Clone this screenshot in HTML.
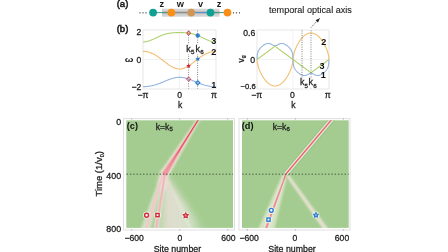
<!DOCTYPE html>
<html><head><meta charset="utf-8"><style>
html,body{margin:0;padding:0;background:#fff;width:448px;height:252px;overflow:hidden}
.t{fill:#1e1e1e;stroke:#1e1e1e;stroke-width:0.28px}
svg{display:block}
</style></head><body>
<svg width="448" height="252" viewBox="0 0 448 252" font-family='"Liberation Sans", Arial, sans-serif'>
<defs>
<filter id="bl1" x="-50%" y="-50%" width="200%" height="200%"><feGaussianBlur stdDeviation="1"/></filter>
<filter id="bl2" x="-50%" y="-50%" width="200%" height="200%"><feGaussianBlur stdDeviation="2"/></filter>
<filter id="bl3" x="-50%" y="-50%" width="200%" height="200%"><feGaussianBlur stdDeviation="3"/></filter>
<filter id="bl03" x="-50%" y="-50%" width="200%" height="200%"><feGaussianBlur stdDeviation="0.3"/></filter>
<filter id="bl08" x="-50%" y="-50%" width="200%" height="200%"><feGaussianBlur stdDeviation="0.8"/></filter>
<filter id="bl05" x="-50%" y="-50%" width="200%" height="200%"><feGaussianBlur stdDeviation="0.5"/></filter>
<clipPath id="cc"><rect x="126.3" y="120.3" width="106.7" height="107.6"/></clipPath>
<clipPath id="cd"><rect x="242" y="120.3" width="106.7" height="107.6"/></clipPath>
</defs>
<rect width="448" height="252" fill="#fff"/>
<text x="116.7" y="7.4" font-size="9.5" class="t" style="stroke-width:0.55px">(a)</text>
<rect x="162" y="8.7" width="57.5" height="8" fill="#d4d4d4"/>
<rect x="162" y="11" width="57.5" height="3.2" fill="#bdbdbd"/>
<line x1="153" y1="12.6" x2="171.5" y2="12.6" stroke="#3f9a7d" stroke-width="1"/>
<line x1="171.5" y1="12.6" x2="191" y2="12.6" stroke="#8a8a8a" stroke-width="1"/>
<line x1="191" y1="12.6" x2="210.5" y2="12.6" stroke="#4b90d4" stroke-width="1"/>
<line x1="210.5" y1="12.6" x2="227.5" y2="12.6" stroke="#3f9a7d" stroke-width="1"/>
<circle cx="153.1" cy="12.6" r="3.9" fill="#0fa294"/>
<circle cx="171.4" cy="12.6" r="3.9" fill="#fb8f16"/>
<circle cx="191.2" cy="12.6" r="3.9" fill="#d09656"/>
<circle cx="210.5" cy="12.6" r="3.9" fill="#0fa294"/>
<circle cx="227.5" cy="12.6" r="3.9" fill="#fb8f16"/>
<circle cx="140" cy="12.8" r="0.65" fill="#222"/>
<circle cx="143" cy="12.8" r="0.65" fill="#222"/>
<circle cx="146" cy="12.8" r="0.65" fill="#222"/>
<circle cx="233.5" cy="12.8" r="0.65" fill="#222"/>
<circle cx="236.5" cy="12.8" r="0.65" fill="#222"/>
<circle cx="239.5" cy="12.8" r="0.65" fill="#222"/>
<text x="161.7" y="6.8" font-size="9.2" font-weight="bold" fill="#1a1a1a" text-anchor="middle">z</text>
<text x="180.4" y="6.8" font-size="9.2" font-weight="bold" fill="#1a1a1a" text-anchor="middle">w</text>
<text x="200.6" y="6.8" font-size="9.2" font-weight="bold" fill="#1a1a1a" text-anchor="middle">v</text>
<text x="219" y="6.8" font-size="9.2" font-weight="bold" fill="#1a1a1a" text-anchor="middle">z</text>
<text x="269" y="12.9" font-size="9.1" class="t" style="stroke-width:0.12px">temporal optical axis</text>
<line x1="311" y1="27.6" x2="317.5" y2="20.6" stroke="#444" stroke-width="0.8" stroke-dasharray="1.2,1"/>
<polygon points="320,18 315.6,20.2 318,22.5" fill="#222"/>
<text x="116.7" y="31.9" font-size="9.5" class="t" style="stroke-width:0.55px">(b)</text>
<rect x="143" y="30" width="73" height="59" fill="#fff" stroke="#e2e2e2" stroke-width="0.8"/>
<line x1="143" y1="59.5" x2="216" y2="59.5" stroke="#ededed" stroke-width="0.7"/>
<line x1="179.5" y1="30" x2="179.5" y2="89" stroke="#ededed" stroke-width="0.7"/>
<line x1="188.6" y1="30.5" x2="188.6" y2="88.5" stroke="#3a3a3a" stroke-width="0.7" stroke-dasharray="0.9,1.4"/>
<line x1="197.6" y1="30.5" x2="197.6" y2="88.5" stroke="#3a3a3a" stroke-width="0.7" stroke-dasharray="0.9,1.4"/>
<path d="M143.00,41.96 L143.30,41.95 L143.61,41.94 L143.91,41.93 L144.22,41.91 L144.52,41.89 L144.82,41.86 L145.13,41.82 L145.43,41.78 L145.74,41.73 L146.04,41.68 L146.35,41.63 L146.65,41.56 L146.95,41.50 L147.26,41.43 L147.56,41.35 L147.87,41.27 L148.17,41.18 L148.47,41.09 L148.78,41.00 L149.08,40.90 L149.39,40.80 L149.69,40.69 L150.00,40.59 L150.30,40.47 L150.60,40.36 L150.91,40.24 L151.21,40.11 L151.52,39.99 L151.82,39.86 L152.12,39.73 L152.43,39.60 L152.73,39.46 L153.04,39.33 L153.34,39.19 L153.65,39.05 L153.95,38.91 L154.25,38.77 L154.56,38.62 L154.86,38.48 L155.17,38.34 L155.47,38.19 L155.78,38.04 L156.08,37.90 L156.38,37.75 L156.69,37.61 L156.99,37.46 L157.30,37.32 L157.60,37.18 L157.90,37.03 L158.21,36.89 L158.51,36.75 L158.82,36.61 L159.12,36.48 L159.43,36.34 L159.73,36.21 L160.03,36.07 L160.34,35.94 L160.64,35.81 L160.95,35.69 L161.25,35.56 L161.55,35.44 L161.86,35.32 L162.16,35.21 L162.47,35.09 L162.77,34.98 L163.07,34.87 L163.38,34.77 L163.68,34.66 L163.99,34.56 L164.29,34.46 L164.60,34.37 L164.90,34.28 L165.20,34.19 L165.51,34.10 L165.81,34.02 L166.12,33.94 L166.42,33.86 L166.72,33.78 L167.03,33.71 L167.33,33.64 L167.64,33.58 L167.94,33.51 L168.25,33.45 L168.55,33.39 L168.85,33.34 L169.16,33.28 L169.46,33.23 L169.77,33.19 L170.07,33.14 L170.38,33.10 L170.68,33.06 L170.98,33.02 L171.29,32.98 L171.59,32.94 L171.90,32.91 L172.20,32.88 L172.50,32.85 L172.81,32.82 L173.11,32.80 L173.42,32.78 L173.72,32.75 L174.03,32.73 L174.33,32.71 L174.63,32.70 L174.94,32.68 L175.24,32.67 L175.55,32.65 L175.85,32.64 L176.15,32.63 L176.46,32.62 L176.76,32.61 L177.07,32.60 L177.37,32.59 L177.68,32.59 L177.98,32.58 L178.28,32.58 L178.59,32.58 L178.89,32.57 L179.20,32.57 L179.50,32.57 L179.80,32.57 L180.11,32.57 L180.41,32.58 L180.72,32.58 L181.02,32.58 L181.32,32.59 L181.63,32.59 L181.93,32.60 L182.24,32.61 L182.54,32.62 L182.85,32.63 L183.15,32.64 L183.45,32.65 L183.76,32.67 L184.06,32.68 L184.37,32.70 L184.67,32.71 L184.97,32.73 L185.28,32.75 L185.58,32.78 L185.89,32.80 L186.19,32.82 L186.50,32.85 L186.80,32.88 L187.10,32.91 L187.41,32.94 L187.71,32.98 L188.02,33.02 L188.32,33.06 L188.62,33.10 L188.93,33.14 L189.23,33.19 L189.54,33.23 L189.84,33.28 L190.15,33.34 L190.45,33.39 L190.75,33.45 L191.06,33.51 L191.36,33.58 L191.67,33.64 L191.97,33.71 L192.28,33.78 L192.58,33.86 L192.88,33.94 L193.19,34.02 L193.49,34.10 L193.80,34.19 L194.10,34.28 L194.40,34.37 L194.71,34.46 L195.01,34.56 L195.32,34.66 L195.62,34.77 L195.93,34.87 L196.23,34.98 L196.53,35.09 L196.84,35.21 L197.14,35.32 L197.45,35.44 L197.75,35.56 L198.05,35.69 L198.36,35.81 L198.66,35.94 L198.97,36.07 L199.27,36.21 L199.57,36.34 L199.88,36.48 L200.18,36.61 L200.49,36.75 L200.79,36.89 L201.10,37.03 L201.40,37.18 L201.70,37.32 L202.01,37.46 L202.31,37.61 L202.62,37.75 L202.92,37.90 L203.22,38.04 L203.53,38.19 L203.83,38.33 L204.14,38.48 L204.44,38.62 L204.75,38.77 L205.05,38.91 L205.35,39.05 L205.66,39.19 L205.96,39.33 L206.27,39.46 L206.57,39.60 L206.88,39.73 L207.18,39.86 L207.48,39.99 L207.79,40.11 L208.09,40.24 L208.40,40.36 L208.70,40.47 L209.00,40.59 L209.31,40.69 L209.61,40.80 L209.92,40.90 L210.22,41.00 L210.53,41.09 L210.83,41.18 L211.13,41.27 L211.44,41.35 L211.74,41.43 L212.05,41.50 L212.35,41.56 L212.65,41.63 L212.96,41.68 L213.26,41.73 L213.57,41.78 L213.87,41.82 L214.18,41.86 L214.48,41.89 L214.78,41.91 L215.09,41.93 L215.39,41.94 L215.70,41.95 L216.00,41.96" fill="none" stroke="#afd16e" stroke-width="1.1"/>
<path d="M143.00,51.34 L143.30,51.34 L143.61,51.35 L143.91,51.36 L144.22,51.38 L144.52,51.40 L144.82,51.42 L145.13,51.45 L145.43,51.49 L145.74,51.52 L146.04,51.57 L146.35,51.62 L146.65,51.67 L146.95,51.73 L147.26,51.79 L147.56,51.85 L147.87,51.92 L148.17,52.00 L148.47,52.08 L148.78,52.16 L149.08,52.25 L149.39,52.35 L149.69,52.44 L150.00,52.55 L150.30,52.65 L150.60,52.76 L150.91,52.88 L151.21,53.00 L151.52,53.12 L151.82,53.25 L152.12,53.39 L152.43,53.52 L152.73,53.66 L153.04,53.81 L153.34,53.96 L153.65,54.11 L153.95,54.27 L154.25,54.43 L154.56,54.60 L154.86,54.77 L155.17,54.94 L155.47,55.12 L155.78,55.30 L156.08,55.49 L156.38,55.68 L156.69,55.87 L156.99,56.06 L157.30,56.26 L157.60,56.46 L157.90,56.67 L158.21,56.88 L158.51,57.09 L158.82,57.30 L159.12,57.52 L159.43,57.74 L159.73,57.96 L160.03,58.18 L160.34,58.41 L160.64,58.63 L160.95,58.86 L161.25,59.09 L161.55,59.32 L161.86,59.56 L162.16,59.79 L162.47,60.03 L162.77,60.26 L163.07,60.50 L163.38,60.74 L163.68,60.98 L163.99,61.21 L164.29,61.45 L164.60,61.69 L164.90,61.93 L165.20,62.16 L165.51,62.40 L165.81,62.63 L166.12,62.87 L166.42,63.10 L166.72,63.33 L167.03,63.56 L167.33,63.78 L167.64,64.01 L167.94,64.23 L168.25,64.45 L168.55,64.66 L168.85,64.88 L169.16,65.09 L169.46,65.29 L169.77,65.49 L170.07,65.69 L170.38,65.89 L170.68,66.08 L170.98,66.26 L171.29,66.44 L171.59,66.62 L171.90,66.79 L172.20,66.96 L172.50,67.12 L172.81,67.27 L173.11,67.42 L173.42,67.56 L173.72,67.70 L174.03,67.83 L174.33,67.96 L174.63,68.08 L174.94,68.19 L175.24,68.29 L175.55,68.39 L175.85,68.48 L176.15,68.57 L176.46,68.65 L176.76,68.72 L177.07,68.78 L177.37,68.84 L177.68,68.88 L177.98,68.93 L178.28,68.96 L178.59,68.99 L178.89,69.00 L179.20,69.02 L179.50,69.02 L179.80,69.02 L180.11,69.00 L180.41,68.99 L180.72,68.96 L181.02,68.93 L181.32,68.88 L181.63,68.84 L181.93,68.78 L182.24,68.72 L182.54,68.65 L182.85,68.57 L183.15,68.48 L183.45,68.39 L183.76,68.29 L184.06,68.19 L184.37,68.08 L184.67,67.96 L184.97,67.83 L185.28,67.70 L185.58,67.56 L185.89,67.42 L186.19,67.27 L186.50,67.12 L186.80,66.96 L187.10,66.79 L187.41,66.62 L187.71,66.44 L188.02,66.26 L188.32,66.08 L188.62,65.89 L188.93,65.69 L189.23,65.49 L189.54,65.29 L189.84,65.09 L190.15,64.88 L190.45,64.66 L190.75,64.45 L191.06,64.23 L191.36,64.01 L191.67,63.78 L191.97,63.56 L192.28,63.33 L192.58,63.10 L192.88,62.87 L193.19,62.63 L193.49,62.40 L193.80,62.16 L194.10,61.93 L194.40,61.69 L194.71,61.45 L195.01,61.21 L195.32,60.98 L195.62,60.74 L195.93,60.50 L196.23,60.26 L196.53,60.03 L196.84,59.79 L197.14,59.56 L197.45,59.32 L197.75,59.09 L198.05,58.86 L198.36,58.63 L198.66,58.41 L198.97,58.18 L199.27,57.96 L199.57,57.74 L199.88,57.52 L200.18,57.30 L200.49,57.09 L200.79,56.88 L201.10,56.67 L201.40,56.46 L201.70,56.26 L202.01,56.06 L202.31,55.87 L202.62,55.68 L202.92,55.49 L203.22,55.30 L203.53,55.12 L203.83,54.94 L204.14,54.77 L204.44,54.60 L204.75,54.43 L205.05,54.27 L205.35,54.11 L205.66,53.96 L205.96,53.81 L206.27,53.66 L206.57,53.52 L206.88,53.39 L207.18,53.25 L207.48,53.12 L207.79,53.00 L208.09,52.88 L208.40,52.76 L208.70,52.65 L209.00,52.55 L209.31,52.44 L209.61,52.35 L209.92,52.25 L210.22,52.16 L210.53,52.08 L210.83,52.00 L211.13,51.92 L211.44,51.85 L211.74,51.79 L212.05,51.73 L212.35,51.67 L212.65,51.62 L212.96,51.57 L213.26,51.52 L213.57,51.49 L213.87,51.45 L214.18,51.42 L214.48,51.40 L214.78,51.38 L215.09,51.36 L215.39,51.35 L215.70,51.34 L216.00,51.34" fill="none" stroke="#f3be70" stroke-width="1.1"/>
<path d="M143.00,86.70 L143.30,86.70 L143.61,86.70 L143.91,86.69 L144.22,86.68 L144.52,86.67 L144.82,86.66 L145.13,86.65 L145.43,86.63 L145.74,86.61 L146.04,86.59 L146.35,86.57 L146.65,86.54 L146.95,86.51 L147.26,86.48 L147.56,86.45 L147.87,86.42 L148.17,86.38 L148.47,86.34 L148.78,86.30 L149.08,86.26 L149.39,86.21 L149.69,86.16 L150.00,86.11 L150.30,86.06 L150.60,86.01 L150.91,85.95 L151.21,85.89 L151.52,85.83 L151.82,85.77 L152.12,85.70 L152.43,85.63 L152.73,85.56 L153.04,85.49 L153.34,85.41 L153.65,85.34 L153.95,85.26 L154.25,85.17 L154.56,85.09 L154.86,85.00 L155.17,84.92 L155.47,84.82 L155.78,84.73 L156.08,84.64 L156.38,84.54 L156.69,84.44 L156.99,84.34 L157.30,84.24 L157.60,84.13 L157.90,84.03 L158.21,83.92 L158.51,83.81 L158.82,83.70 L159.12,83.59 L159.43,83.47 L159.73,83.36 L160.03,83.24 L160.34,83.12 L160.64,83.00 L160.95,82.88 L161.25,82.76 L161.55,82.63 L161.86,82.51 L162.16,82.38 L162.47,82.26 L162.77,82.13 L163.07,82.00 L163.38,81.88 L163.68,81.75 L163.99,81.62 L164.29,81.49 L164.60,81.36 L164.90,81.23 L165.20,81.11 L165.51,80.98 L165.81,80.85 L166.12,80.72 L166.42,80.60 L166.72,80.47 L167.03,80.35 L167.33,80.22 L167.64,80.10 L167.94,79.98 L168.25,79.86 L168.55,79.74 L168.85,79.62 L169.16,79.51 L169.46,79.39 L169.77,79.28 L170.07,79.17 L170.38,79.06 L170.68,78.96 L170.98,78.86 L171.29,78.76 L171.59,78.66 L171.90,78.56 L172.20,78.47 L172.50,78.38 L172.81,78.29 L173.11,78.21 L173.42,78.13 L173.72,78.05 L174.03,77.98 L174.33,77.91 L174.63,77.85 L174.94,77.78 L175.24,77.72 L175.55,77.67 L175.85,77.62 L176.15,77.57 L176.46,77.53 L176.76,77.49 L177.07,77.45 L177.37,77.42 L177.68,77.39 L177.98,77.37 L178.28,77.35 L178.59,77.34 L178.89,77.32 L179.20,77.32 L179.50,77.32 L179.80,77.32 L180.11,77.32 L180.41,77.34 L180.72,77.35 L181.02,77.37 L181.32,77.39 L181.63,77.42 L181.93,77.45 L182.24,77.49 L182.54,77.53 L182.85,77.57 L183.15,77.62 L183.45,77.67 L183.76,77.72 L184.06,77.78 L184.37,77.85 L184.67,77.91 L184.97,77.98 L185.28,78.05 L185.58,78.13 L185.89,78.21 L186.19,78.29 L186.50,78.38 L186.80,78.47 L187.10,78.56 L187.41,78.66 L187.71,78.76 L188.02,78.86 L188.32,78.96 L188.62,79.06 L188.93,79.17 L189.23,79.28 L189.54,79.39 L189.84,79.51 L190.15,79.62 L190.45,79.74 L190.75,79.86 L191.06,79.98 L191.36,80.10 L191.67,80.22 L191.97,80.35 L192.28,80.47 L192.58,80.60 L192.88,80.72 L193.19,80.85 L193.49,80.98 L193.80,81.11 L194.10,81.23 L194.40,81.36 L194.71,81.49 L195.01,81.62 L195.32,81.75 L195.62,81.88 L195.93,82.00 L196.23,82.13 L196.53,82.26 L196.84,82.38 L197.14,82.51 L197.45,82.63 L197.75,82.76 L198.05,82.88 L198.36,83.00 L198.66,83.12 L198.97,83.24 L199.27,83.36 L199.57,83.47 L199.88,83.59 L200.18,83.70 L200.49,83.81 L200.79,83.92 L201.10,84.03 L201.40,84.13 L201.70,84.24 L202.01,84.34 L202.31,84.44 L202.62,84.54 L202.92,84.64 L203.22,84.73 L203.53,84.82 L203.83,84.91 L204.14,85.00 L204.44,85.09 L204.75,85.17 L205.05,85.26 L205.35,85.34 L205.66,85.41 L205.96,85.49 L206.27,85.56 L206.57,85.63 L206.88,85.70 L207.18,85.77 L207.48,85.83 L207.79,85.89 L208.09,85.95 L208.40,86.01 L208.70,86.06 L209.00,86.11 L209.31,86.16 L209.61,86.21 L209.92,86.26 L210.22,86.30 L210.53,86.34 L210.83,86.38 L211.13,86.42 L211.44,86.45 L211.74,86.48 L212.05,86.51 L212.35,86.54 L212.65,86.57 L212.96,86.59 L213.26,86.61 L213.57,86.63 L213.87,86.65 L214.18,86.66 L214.48,86.67 L214.78,86.68 L215.09,86.69 L215.39,86.70 L215.70,86.70 L216.00,86.70" fill="none" stroke="#94b5e2" stroke-width="1.1"/>
<circle cx="188.62" cy="33.10" r="1.6" fill="none" stroke="#cf2a3a" stroke-width="1.0"/>
<polygon points="188.62,63.39 189.36,64.88 191.00,65.11 189.81,66.27 190.09,67.91 188.62,67.14 187.16,67.91 187.44,66.27 186.25,65.11 187.89,64.88" fill="#cf2a3a"/>
<polygon points="188.62,76.96 190.72,79.06 188.62,81.16 186.53,79.06" fill="none" stroke="#cf2a3a" stroke-width="1.0"/>
<circle cx="197.75" cy="35.56" r="2.0" fill="#2f7fcf" stroke="#2f7fcf" stroke-width="0.4"/>
<polygon points="197.75,56.59 198.48,58.08 200.13,58.32 198.94,59.48 199.22,61.11 197.75,60.34 196.28,61.11 196.56,59.48 195.37,58.32 197.02,58.08" fill="#2f7fcf"/>
<polygon points="197.75,80.66 199.85,82.76 197.75,84.86 195.65,82.76" fill="none" stroke="#2f7fcf" stroke-width="1.1"/>
<rect x="185.8" y="44.3" width="17.6" height="9.6" fill="#fff"/>
<text x="186.3" y="51.6" font-size="8.9" class="t">k<tspan font-size="6.2" dx="0.3" dy="2.1">5</tspan></text>
<text x="195.6" y="51.6" font-size="8.9" class="t">k<tspan font-size="6.2" dx="0.3" dy="2.1">6</tspan></text>
<text x="211.3" y="43.6" font-size="9.1" font-weight="bold" fill="#111">3</text>
<text x="211.3" y="54.5" font-size="9.1" font-weight="bold" fill="#111">2</text>
<text x="211.3" y="87.8" font-size="9.1" font-weight="bold" fill="#111">1</text>
<text x="141.4" y="35.2" font-size="8.6" class="t" text-anchor="end">2</text>
<text x="141.4" y="62.6" font-size="8.6" class="t" text-anchor="end">0</text>
<text x="141.4" y="89.6" font-size="8.6" class="t" text-anchor="end">−2</text>
<text transform="translate(129.1,61.5) scale(1.2,0.8)" font-size="8.6" font-weight="bold" fill="#222" text-anchor="middle">ω</text>
<text x="143" y="98" font-size="8.6" class="t" text-anchor="middle">−π</text>
<text x="179.6" y="98" font-size="8.6" class="t" text-anchor="middle">0</text>
<text x="214" y="98" font-size="8.6" class="t" text-anchor="middle">π</text>
<text x="180.2" y="107.8" font-size="8.6" class="t" text-anchor="middle">k</text>
<rect x="257" y="30" width="72" height="59" fill="#fff" stroke="#e2e2e2" stroke-width="0.8"/>
<line x1="257" y1="59.5" x2="329" y2="59.5" stroke="#ededed" stroke-width="0.7"/>
<line x1="293" y1="30" x2="293" y2="89" stroke="#ededed" stroke-width="0.7"/>
<path d="M257.00,59.50 L257.30,62.48 L257.60,64.02 L257.90,65.26 L258.20,66.34 L258.50,67.32 L258.80,68.21 L259.10,69.05 L259.40,69.83 L259.70,70.58 L260.00,71.29 L260.30,71.96 L260.60,72.61 L260.90,73.23 L261.20,73.83 L261.50,74.40 L261.80,74.96 L262.10,75.49 L262.40,76.01 L262.70,76.51 L263.00,77.00 L263.30,77.46 L263.60,77.92 L263.90,78.36 L264.20,78.78 L264.50,79.19 L264.80,79.59 L265.10,79.97 L265.40,80.34 L265.70,80.70 L266.00,81.04 L266.30,81.37 L266.60,81.69 L266.90,82.00 L267.20,82.30 L267.50,82.58 L267.80,82.85 L268.10,83.11 L268.40,83.36 L268.70,83.60 L269.00,83.83 L269.30,84.04 L269.60,84.25 L269.90,84.44 L270.20,84.62 L270.50,84.79 L270.80,84.95 L271.10,85.10 L271.40,85.23 L271.70,85.36 L272.00,85.47 L272.30,85.58 L272.60,85.67 L272.90,85.75 L273.20,85.82 L273.50,85.88 L273.80,85.93 L274.10,85.97 L274.40,86.00 L274.70,86.01 L275.00,86.02 L275.30,86.01 L275.60,86.00 L275.90,85.97 L276.20,85.93 L276.50,85.88 L276.80,85.82 L277.10,85.75 L277.40,85.67 L277.70,85.58 L278.00,85.47 L278.30,85.36 L278.60,85.23 L278.90,85.10 L279.20,84.95 L279.50,84.79 L279.80,84.62 L280.10,84.44 L280.40,84.25 L280.70,84.04 L281.00,83.83 L281.30,83.60 L281.60,83.36 L281.90,83.11 L282.20,82.85 L282.50,82.58 L282.80,82.30 L283.10,82.00 L283.40,81.69 L283.70,81.37 L284.00,81.04 L284.30,80.70 L284.60,80.34 L284.90,79.97 L285.20,79.59 L285.50,79.19 L285.80,78.78 L286.10,78.36 L286.40,77.92 L286.70,77.46 L287.00,77.00 L287.30,76.51 L287.60,76.01 L287.90,75.49 L288.20,74.96 L288.50,74.40 L288.80,73.83 L289.10,73.23 L289.40,72.61 L289.70,71.96 L290.00,71.29 L290.30,70.58 L290.60,69.83 L290.90,69.05 L291.20,68.21 L291.50,67.32 L291.80,66.34 L292.10,65.26 L292.40,64.02 L292.70,62.48 L293.00,59.50 L293.30,56.52 L293.60,54.98 L293.90,53.74 L294.20,52.66 L294.50,51.68 L294.80,50.79 L295.10,49.95 L295.40,49.17 L295.70,48.42 L296.00,47.71 L296.30,47.04 L296.60,46.39 L296.90,45.77 L297.20,45.17 L297.50,44.60 L297.80,44.04 L298.10,43.51 L298.40,42.99 L298.70,42.49 L299.00,42.00 L299.30,41.54 L299.60,41.08 L299.90,40.64 L300.20,40.22 L300.50,39.81 L300.80,39.41 L301.10,39.03 L301.40,38.66 L301.70,38.30 L302.00,37.96 L302.30,37.63 L302.60,37.31 L302.90,37.00 L303.20,36.70 L303.50,36.42 L303.80,36.15 L304.10,35.89 L304.40,35.64 L304.70,35.40 L305.00,35.17 L305.30,34.96 L305.60,34.75 L305.90,34.56 L306.20,34.38 L306.50,34.21 L306.80,34.05 L307.10,33.90 L307.40,33.77 L307.70,33.64 L308.00,33.53 L308.30,33.42 L308.60,33.33 L308.90,33.25 L309.20,33.18 L309.50,33.12 L309.80,33.07 L310.10,33.03 L310.40,33.00 L310.70,32.99 L311.00,32.98 L311.30,32.99 L311.60,33.00 L311.90,33.03 L312.20,33.07 L312.50,33.12 L312.80,33.18 L313.10,33.25 L313.40,33.33 L313.70,33.42 L314.00,33.53 L314.30,33.64 L314.60,33.77 L314.90,33.90 L315.20,34.05 L315.50,34.21 L315.80,34.38 L316.10,34.56 L316.40,34.75 L316.70,34.96 L317.00,35.17 L317.30,35.40 L317.60,35.64 L317.90,35.89 L318.20,36.15 L318.50,36.42 L318.80,36.70 L319.10,37.00 L319.40,37.31 L319.70,37.63 L320.00,37.96 L320.30,38.30 L320.60,38.66 L320.90,39.03 L321.20,39.41 L321.50,39.81 L321.80,40.22 L322.10,40.64 L322.40,41.08 L322.70,41.54 L323.00,42.00 L323.30,42.49 L323.60,42.99 L323.90,43.51 L324.20,44.04 L324.50,44.60 L324.80,45.17 L325.10,45.77 L325.40,46.39 L325.70,47.04 L326.00,47.71 L326.30,48.42 L326.60,49.17 L326.90,49.95 L327.20,50.79 L327.50,51.68 L327.80,52.66 L328.10,53.74 L328.40,54.98 L328.70,56.52 L329.00,59.50" fill="none" stroke="#f3be70" stroke-width="1.1"/>
<path d="M257.00,59.50 L257.30,54.56 L257.60,53.20 L257.90,52.25 L258.20,51.48 L258.50,50.83 L258.80,50.26 L259.10,49.76 L259.40,49.30 L259.70,48.87 L260.00,48.48 L260.30,48.12 L260.60,47.78 L260.90,47.46 L261.20,47.16 L261.50,46.87 L261.80,46.60 L262.10,46.34 L262.40,46.09 L262.70,45.86 L263.00,45.63 L263.30,45.42 L263.60,45.22 L263.90,45.03 L264.20,44.84 L264.50,44.67 L264.80,44.50 L265.10,44.35 L265.40,44.20 L265.70,44.07 L266.00,43.94 L266.30,43.83 L266.60,43.73 L266.90,43.64 L267.20,43.57 L267.50,43.51 L267.80,43.47 L268.10,43.44 L268.40,43.43 L268.70,43.44 L269.00,43.47 L269.30,43.52 L269.60,43.58 L269.90,43.66 L270.20,43.76 L270.50,43.88 L270.80,44.01 L271.10,44.16 L271.40,44.31 L271.70,44.47 L272.00,44.64 L272.30,44.80 L272.60,44.97 L272.90,45.12 L273.20,45.26 L273.50,45.39 L273.80,45.50 L274.10,45.59 L274.40,45.66 L274.70,45.70 L275.00,45.71 L275.30,45.70 L275.60,45.66 L275.90,45.59 L276.20,45.50 L276.50,45.39 L276.80,45.26 L277.10,45.12 L277.40,44.97 L277.70,44.80 L278.00,44.64 L278.30,44.47 L278.60,44.31 L278.90,44.16 L279.20,44.01 L279.50,43.88 L279.80,43.76 L280.10,43.66 L280.40,43.58 L280.70,43.52 L281.00,43.47 L281.30,43.44 L281.60,43.43 L281.90,43.44 L282.20,43.47 L282.50,43.51 L282.80,43.57 L283.10,43.64 L283.40,43.73 L283.70,43.83 L284.00,43.94 L284.30,44.07 L284.60,44.20 L284.90,44.35 L285.20,44.50 L285.50,44.67 L285.80,44.84 L286.10,45.03 L286.40,45.22 L286.70,45.42 L287.00,45.63 L287.30,45.86 L287.60,46.09 L287.90,46.34 L288.20,46.60 L288.50,46.87 L288.80,47.16 L289.10,47.46 L289.40,47.78 L289.70,48.12 L290.00,48.48 L290.30,48.87 L290.60,49.30 L290.90,49.76 L291.20,50.26 L291.50,50.83 L291.80,51.48 L292.10,52.25 L292.40,53.20 L292.70,54.56 L293.00,59.50 L293.30,64.44 L293.60,65.80 L293.90,66.75 L294.20,67.52 L294.50,68.17 L294.80,68.74 L295.10,69.24 L295.40,69.70 L295.70,70.13 L296.00,70.52 L296.30,70.88 L296.60,71.22 L296.90,71.54 L297.20,71.84 L297.50,72.13 L297.80,72.40 L298.10,72.66 L298.40,72.91 L298.70,73.14 L299.00,73.37 L299.30,73.58 L299.60,73.78 L299.90,73.97 L300.20,74.16 L300.50,74.33 L300.80,74.50 L301.10,74.65 L301.40,74.80 L301.70,74.93 L302.00,75.06 L302.30,75.17 L302.60,75.27 L302.90,75.36 L303.20,75.43 L303.50,75.49 L303.80,75.53 L304.10,75.56 L304.40,75.57 L304.70,75.56 L305.00,75.53 L305.30,75.48 L305.60,75.42 L305.90,75.34 L306.20,75.24 L306.50,75.12 L306.80,74.99 L307.10,74.84 L307.40,74.69 L307.70,74.53 L308.00,74.36 L308.30,74.20 L308.60,74.03 L308.90,73.88 L309.20,73.74 L309.50,73.61 L309.80,73.50 L310.10,73.41 L310.40,73.34 L310.70,73.30 L311.00,73.29 L311.30,73.30 L311.60,73.34 L311.90,73.41 L312.20,73.50 L312.50,73.61 L312.80,73.74 L313.10,73.88 L313.40,74.03 L313.70,74.20 L314.00,74.36 L314.30,74.53 L314.60,74.69 L314.90,74.84 L315.20,74.99 L315.50,75.12 L315.80,75.24 L316.10,75.34 L316.40,75.42 L316.70,75.48 L317.00,75.53 L317.30,75.56 L317.60,75.57 L317.90,75.56 L318.20,75.53 L318.50,75.49 L318.80,75.43 L319.10,75.36 L319.40,75.27 L319.70,75.17 L320.00,75.06 L320.30,74.93 L320.60,74.80 L320.90,74.65 L321.20,74.50 L321.50,74.33 L321.80,74.16 L322.10,73.97 L322.40,73.78 L322.70,73.58 L323.00,73.37 L323.30,73.14 L323.60,72.91 L323.90,72.66 L324.20,72.40 L324.50,72.13 L324.80,71.84 L325.10,71.54 L325.40,71.22 L325.70,70.88 L326.00,70.52 L326.30,70.13 L326.60,69.70 L326.90,69.24 L327.20,68.74 L327.50,68.17 L327.80,67.52 L328.10,66.75 L328.40,65.80 L328.70,64.44 L329.00,59.50" fill="none" stroke="#94b5e2" stroke-width="1.1"/>
<path d="M257.00,59.50 L257.30,59.28 L257.60,59.06 L257.90,58.84 L258.20,58.62 L258.50,58.40 L258.80,58.17 L259.10,57.95 L259.40,57.73 L259.70,57.51 L260.00,57.29 L260.30,57.07 L260.60,56.85 L260.90,56.63 L261.20,56.41 L261.50,56.19 L261.80,55.96 L262.10,55.74 L262.40,55.52 L262.70,55.30 L263.00,55.08 L263.30,54.86 L263.60,54.64 L263.90,54.42 L264.20,54.20 L264.50,53.98 L264.80,53.75 L265.10,53.53 L265.40,53.31 L265.70,53.09 L266.00,52.87 L266.30,52.65 L266.60,52.43 L266.90,52.21 L267.20,51.99 L267.50,51.77 L267.80,51.54 L268.10,51.32 L268.40,51.10 L268.70,50.88 L269.00,50.66 L269.30,50.44 L269.60,50.22 L269.90,50.00 L270.20,49.78 L270.50,49.55 L270.80,49.33 L271.10,49.11 L271.40,48.89 L271.70,48.67 L272.00,48.45 L272.30,48.23 L272.60,48.01 L272.90,47.79 L273.20,47.57 L273.50,47.34 L273.80,47.12 L274.10,46.90 L274.40,46.68 L274.70,46.46 L275.00,46.24 L275.30,46.46 L275.60,46.68 L275.90,46.90 L276.20,47.12 L276.50,47.34 L276.80,47.57 L277.10,47.79 L277.40,48.01 L277.70,48.23 L278.00,48.45 L278.30,48.67 L278.60,48.89 L278.90,49.11 L279.20,49.33 L279.50,49.55 L279.80,49.78 L280.10,50.00 L280.40,50.22 L280.70,50.44 L281.00,50.66 L281.30,50.88 L281.60,51.10 L281.90,51.32 L282.20,51.54 L282.50,51.77 L282.80,51.99 L283.10,52.21 L283.40,52.43 L283.70,52.65 L284.00,52.87 L284.30,53.09 L284.60,53.31 L284.90,53.53 L285.20,53.75 L285.50,53.98 L285.80,54.20 L286.10,54.42 L286.40,54.64 L286.70,54.86 L287.00,55.08 L287.30,55.30 L287.60,55.52 L287.90,55.74 L288.20,55.96 L288.50,56.19 L288.80,56.41 L289.10,56.63 L289.40,56.85 L289.70,57.07 L290.00,57.29 L290.30,57.51 L290.60,57.73 L290.90,57.95 L291.20,58.17 L291.50,58.39 L291.80,58.62 L292.10,58.84 L292.40,59.06 L292.70,59.28 L293.00,59.50 L293.30,59.72 L293.60,59.94 L293.90,60.16 L294.20,60.38 L294.50,60.60 L294.80,60.83 L295.10,61.05 L295.40,61.27 L295.70,61.49 L296.00,61.71 L296.30,61.93 L296.60,62.15 L296.90,62.37 L297.20,62.59 L297.50,62.81 L297.80,63.04 L298.10,63.26 L298.40,63.48 L298.70,63.70 L299.00,63.92 L299.30,64.14 L299.60,64.36 L299.90,64.58 L300.20,64.80 L300.50,65.02 L300.80,65.25 L301.10,65.47 L301.40,65.69 L301.70,65.91 L302.00,66.13 L302.30,66.35 L302.60,66.57 L302.90,66.79 L303.20,67.01 L303.50,67.23 L303.80,67.46 L304.10,67.68 L304.40,67.90 L304.70,68.12 L305.00,68.34 L305.30,68.56 L305.60,68.78 L305.90,69.00 L306.20,69.22 L306.50,69.44 L306.80,69.67 L307.10,69.89 L307.40,70.11 L307.70,70.33 L308.00,70.55 L308.30,70.77 L308.60,70.99 L308.90,71.21 L309.20,71.43 L309.50,71.66 L309.80,71.88 L310.10,72.10 L310.40,72.32 L310.70,72.54 L311.00,72.76 L311.30,72.54 L311.60,72.32 L311.90,72.10 L312.20,71.88 L312.50,71.66 L312.80,71.43 L313.10,71.21 L313.40,70.99 L313.70,70.77 L314.00,70.55 L314.30,70.33 L314.60,70.11 L314.90,69.89 L315.20,69.67 L315.50,69.45 L315.80,69.22 L316.10,69.00 L316.40,68.78 L316.70,68.56 L317.00,68.34 L317.30,68.12 L317.60,67.90 L317.90,67.68 L318.20,67.46 L318.50,67.23 L318.80,67.01 L319.10,66.79 L319.40,66.57 L319.70,66.35 L320.00,66.13 L320.30,65.91 L320.60,65.69 L320.90,65.47 L321.20,65.25 L321.50,65.03 L321.80,64.80 L322.10,64.58 L322.40,64.36 L322.70,64.14 L323.00,63.92 L323.30,63.70 L323.60,63.48 L323.90,63.26 L324.20,63.04 L324.50,62.82 L324.80,62.59 L325.10,62.37 L325.40,62.15 L325.70,61.93 L326.00,61.71 L326.30,61.49 L326.60,61.27 L326.90,61.05 L327.20,60.83 L327.50,60.60 L327.80,60.38 L328.10,60.16 L328.40,59.94 L328.70,59.72 L329.00,59.50" fill="none" stroke="#afd16e" stroke-width="1.1"/>
<line x1="302" y1="30.5" x2="302" y2="88.5" stroke="#3a3a3a" stroke-width="0.7" stroke-dasharray="0.9,1.4"/>
<line x1="311" y1="30.5" x2="311" y2="88.5" stroke="#3a3a3a" stroke-width="0.7" stroke-dasharray="0.9,1.4"/>
<rect x="299.5" y="79.5" width="17" height="9" fill="#fff"/>
<text x="299.9" y="85.4" font-size="8.9" class="t">k<tspan font-size="6.2" dx="0.2" dy="2.1">5</tspan></text>
<text x="308.5" y="85.4" font-size="8.9" class="t">k<tspan font-size="6.2" dx="0.2" dy="2.1">6</tspan></text>
<text x="321.2" y="45.3" font-size="9.1" font-weight="bold" fill="#111">2</text>
<text x="319.4" y="69.1" font-size="9.1" font-weight="bold" fill="#111">3</text>
<text x="320.8" y="77.9" font-size="9.1" font-weight="bold" fill="#111">1</text>
<text x="255.3" y="36" font-size="8.6" class="t" text-anchor="end">0.6</text>
<text x="255.2" y="62.8" font-size="8.8" class="t" text-anchor="end">0</text>
<text x="255.8" y="88.6" font-size="7.7" class="t" text-anchor="end">−0.6</text>
<text transform="translate(243.7,58.9) rotate(-90)" font-size="8.2" class="t" text-anchor="middle">v<tspan font-size="5.2" dy="1.6">g</tspan></text>
<text x="256.8" y="98" font-size="8.6" class="t" text-anchor="middle">−π</text>
<text x="292.4" y="98" font-size="8.6" class="t" text-anchor="middle">0</text>
<text x="327.6" y="98" font-size="8.6" class="t" text-anchor="middle">π</text>
<text x="293.4" y="107.8" font-size="8.6" class="t" text-anchor="middle">k</text>
<rect x="123.6" y="118.7" width="111.0" height="111.3" fill="#fff" stroke="#d8d8d8" stroke-width="0.8"/>
<rect x="126.3" y="120.3" width="106.7" height="107.6" fill="#a4cc90"/>
<line x1="131.7" y1="118.3" x2="131.7" y2="119.6" stroke="#777" stroke-width="0.5"/>
<line x1="131.7" y1="229.2" x2="131.7" y2="230.5" stroke="#777" stroke-width="0.5"/>
<line x1="179.7" y1="118.3" x2="179.7" y2="119.6" stroke="#777" stroke-width="0.5"/>
<line x1="179.7" y1="229.2" x2="179.7" y2="230.5" stroke="#777" stroke-width="0.5"/>
<line x1="227.7" y1="118.3" x2="227.7" y2="119.6" stroke="#777" stroke-width="0.5"/>
<line x1="227.7" y1="229.2" x2="227.7" y2="230.5" stroke="#777" stroke-width="0.5"/>
<defs><linearGradient id="gc1" x1="0" y1="120" x2="0" y2="174" gradientUnits="userSpaceOnUse"><stop offset="0" stop-color="#e4404f"/><stop offset="0.5" stop-color="#ea6070"/><stop offset="1" stop-color="#f0909c"/></linearGradient><linearGradient id="gfan" x1="160" y1="0" x2="192" y2="0" gradientUnits="userSpaceOnUse"><stop offset="0" stop-color="#e9e0d0"/><stop offset="0.7" stop-color="#dfe2c8"/><stop offset="1" stop-color="#e8eadc"/></linearGradient></defs>
<defs><linearGradient id="gpk" x1="0" y1="117" x2="0" y2="176" gradientUnits="userSpaceOnUse"><stop offset="0" stop-color="#f2a0a8" stop-opacity="0"/><stop offset="0.45" stop-color="#f2a0a8" stop-opacity="0.35"/><stop offset="1" stop-color="#f19aa4" stop-opacity="1"/></linearGradient><linearGradient id="gcore" x1="0" y1="117" x2="0" y2="176" gradientUnits="userSpaceOnUse"><stop offset="0" stop-color="#e23e4e"/><stop offset="0.6" stop-color="#e95c6c" stop-opacity="0.9"/><stop offset="1" stop-color="#ee8490" stop-opacity="0.3"/></linearGradient></defs>
<defs><linearGradient id="gfan2" gradientUnits="userSpaceOnUse" x1="158" y1="0" x2="206" y2="0"><stop offset="0" stop-color="#e6e4d8" stop-opacity="0.25"/><stop offset="0.2" stop-color="#ece0da" stop-opacity="0.85"/><stop offset="0.55" stop-color="#e6e4da" stop-opacity="0.8"/><stop offset="0.75" stop-color="#e2eadb" stop-opacity="0.55"/><stop offset="1" stop-color="#dfeadb" stop-opacity="0"/></linearGradient></defs>
<g clip-path="url(#cc)">
<polygon points="165,173 155,236 208,236" fill="url(#gfan2)" filter="url(#bl3)"/>
<polygon points="165.32,176.32 190.19,232.84 193.81,231.16 166.68,175.68" fill="#eaeedf" opacity="0.45" filter="url(#bl1)"/>
<ellipse cx="163.5" cy="181" rx="5" ry="10" fill="#f4e2dc" opacity="0.75" filter="url(#bl2)"/>
<polygon points="160.89,173.41 140.02,230.52 149.58,233.48 164.71,174.59" fill="#e8e6d8" opacity="0.7" filter="url(#bl1)"/>
<polygon points="163.52,173.76 153.13,231.60 158.07,232.40 166.48,174.24" fill="#eeeae2" opacity="0.75" filter="url(#bl1)"/>
<polygon points="198.94,116.34 160.38,172.12 168.02,176.88 201.06,117.66" fill="#f3e6de" opacity="0.9" filter="url(#bl1)"/>
<polygon points="162.05,173.64 143.96,231.61 146.44,232.39 164.35,174.36" fill="#f3c8ca" filter="url(#bl05)"/>
<polygon points="163.91,173.82 154.51,231.82 156.69,232.18 166.09,174.18" fill="#f1b6bb" filter="url(#bl05)"/>
<polygon points="199.36,116.60 161.87,173.05 166.53,175.95 200.64,117.40" fill="url(#gpk)" filter="url(#bl05)"/>
<polygon points="199.49,116.68 163.27,173.92 165.13,175.08 200.51,117.32" fill="url(#gcore)" filter="url(#bl03)"/>
</g>
<line x1="126.6" y1="174.2" x2="233" y2="174.2" stroke="#3d4d3d" stroke-width="0.9" stroke-dasharray="1.4,1.9"/>
<text x="126.8" y="128.8" font-size="9.2" font-weight="bold" fill="#111">(c)</text>
<text x="155.8" y="129.5" font-size="8.6" class="t">k=k<tspan font-size="6" dy="1.8">5</tspan></text>
<circle cx="146.6" cy="215.2" r="3.6" fill="#f4f8ee" opacity="0.7" filter="url(#bl05)"/>
<circle cx="146.60" cy="215.20" r="1.95" fill="#fff" stroke="#cf2a3a" stroke-width="1.45"/>
<circle cx="157.5" cy="215.1" r="3.6" fill="#f4f8ee" opacity="0.7" filter="url(#bl05)"/>
<rect x="155.90" y="213.50" width="3.2" height="3.2" fill="#fff" stroke="#cf2a3a" stroke-width="1.45"/>
<circle cx="185.7" cy="215.4" r="3.6" fill="#f4f8ee" opacity="0.7" filter="url(#bl05)"/>
<polygon points="185.70,212.70 186.52,214.37 188.36,214.63 187.03,215.93 187.35,217.77 185.70,216.90 184.05,217.77 184.37,215.93 183.04,214.63 184.88,214.37" fill="#e98a94" stroke="#cf2a3a" stroke-width="1.1" stroke-linejoin="round"/>
<rect x="239" y="118.7" width="111" height="111.3" fill="#fff" stroke="#d8d8d8" stroke-width="0.8"/>
<rect x="242" y="120.3" width="106.7" height="107.6" fill="#a4cc90"/>
<line x1="247.4" y1="118.3" x2="247.4" y2="119.6" stroke="#777" stroke-width="0.5"/>
<line x1="247.4" y1="229.2" x2="247.4" y2="230.5" stroke="#777" stroke-width="0.5"/>
<line x1="295.4" y1="118.3" x2="295.4" y2="119.6" stroke="#777" stroke-width="0.5"/>
<line x1="295.4" y1="229.2" x2="295.4" y2="230.5" stroke="#777" stroke-width="0.5"/>
<line x1="343.4" y1="118.3" x2="343.4" y2="119.6" stroke="#777" stroke-width="0.5"/>
<line x1="343.4" y1="229.2" x2="343.4" y2="230.5" stroke="#777" stroke-width="0.5"/>
<g clip-path="url(#cd)">
<polygon points="282.63,174.19 257.93,229.41 273.07,234.59 287.37,175.81" fill="#dde6cb" opacity="0.85" filter="url(#bl1)"/>
<polygon points="284.05,174.68 262.66,231.03 268.34,232.97 285.95,175.32" fill="#e9ecdc" opacity="0.8" filter="url(#bl1)"/>
<polygon points="284.76,176.74 324.95,234.03 330.65,229.97 289.64,173.26" fill="#93bf80" opacity="0.5" filter="url(#bl05)"/>
<polygon points="285.65,176.10 325.76,233.45 329.84,230.55 288.75,173.90" fill="#e2e2cd" filter="url(#bl08)"/>
<polygon points="330.70,116.07 283.40,172.27 288.00,176.13 335.30,119.93" fill="#93bf80" opacity="0.6" filter="url(#bl05)"/>
<polygon points="331.55,116.78 284.17,172.91 287.23,175.49 334.45,119.22" fill="#e4f0da" filter="url(#bl03)"/>
<polygon points="332.43,117.52 285.09,173.68 286.31,174.72 333.57,118.48" fill="#ee6676" filter="url(#bl03)"/>
<polygon points="285.08,174.00 283.13,179.78 284.47,180.22 286.32,174.40" fill="#ee7682" filter="url(#bl03)"/>
<polygon points="283.14,179.76 263.77,231.62 265.83,232.38 284.46,180.24" fill="#f08a96" filter="url(#bl03)"/>
</g>
<line x1="242.3" y1="174.2" x2="348.7" y2="174.2" stroke="#3d4d3d" stroke-width="0.9" stroke-dasharray="1.4,1.9"/>
<text x="241.8" y="128.8" font-size="9.2" font-weight="bold" fill="#111">(d)</text>
<text x="272.8" y="129.5" font-size="8.6" class="t">k=k<tspan font-size="6" dy="1.8">6</tspan></text>
<circle cx="271.3" cy="210.3" r="3.6" fill="#f4f8ee" opacity="0.7" filter="url(#bl05)"/>
<circle cx="271.30" cy="210.30" r="1.95" fill="#fff" stroke="#2f7fcf" stroke-width="1.45"/>
<circle cx="268.5" cy="219.6" r="3.6" fill="#f4f8ee" opacity="0.7" filter="url(#bl05)"/>
<rect x="266.90" y="218.00" width="3.2" height="3.2" fill="#fff" stroke="#2f7fcf" stroke-width="1.45"/>
<circle cx="315.9" cy="215.0" r="3.6" fill="#f4f8ee" opacity="0.7" filter="url(#bl05)"/>
<polygon points="315.90,212.50 316.66,214.05 318.37,214.30 317.14,215.50 317.43,217.20 315.90,216.40 314.37,217.20 314.66,215.50 313.43,214.30 315.14,214.05" fill="#8ab8e6" stroke="#2f7fcf" stroke-width="1.1" stroke-linejoin="round"/>
<text x="121.1" y="125.0" font-size="8.9" class="t" text-anchor="end">0</text>
<text x="121.1" y="178.8" font-size="8.9" class="t" text-anchor="end">400</text>
<text x="121.1" y="231.8" font-size="8.9" class="t" text-anchor="end">800</text>
<text transform="translate(101.9,173.8) rotate(-90)" font-size="9.5" class="t" text-anchor="middle">Time (1/v<tspan font-size="5.5" dy="1.8">0</tspan><tspan dy="-1.8">)</tspan></text>
<text x="134.2" y="241.2" font-size="8.6" class="t" text-anchor="middle">−600</text>
<text x="180.0" y="241.2" font-size="8.6" class="t" text-anchor="middle">0</text>
<text x="228.3" y="241.2" font-size="8.6" class="t" text-anchor="middle">600</text>
<text x="177.4" y="252" font-size="8.8" class="t" text-anchor="middle">Site number</text>
<text x="249.2" y="241.2" font-size="8.6" class="t" text-anchor="middle">−600</text>
<text x="295.0" y="241.2" font-size="8.6" class="t" text-anchor="middle">0</text>
<text x="342.0" y="241.2" font-size="8.6" class="t" text-anchor="middle">600</text>
<text x="292.0" y="252" font-size="8.8" class="t" text-anchor="middle">Site number</text>
</svg>
</body></html>
